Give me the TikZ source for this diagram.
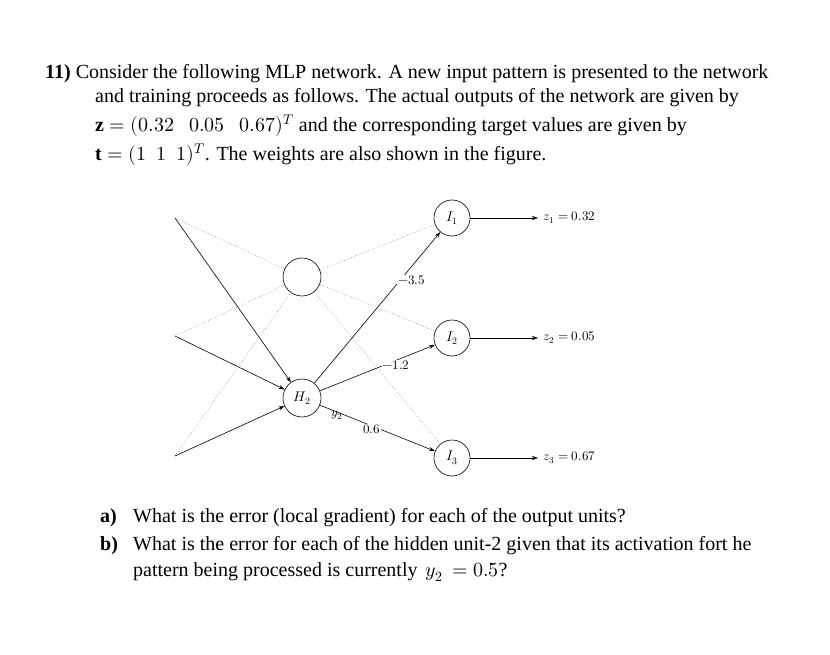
\documentclass[tikz,border=0pt]{standalone}
\usepackage{fontspec}
\setmainfont{Liberation Serif}
\usepackage{unicode-math}
\usetikzlibrary{arrows.meta}
\begin{document}
\begin{tikzpicture}[x=1pt,y=-1pt,
  neuron/.style={circle,draw,line width=0.6pt,minimum size=36pt,inner sep=0pt,font=\fontsize{14}{14}\selectfont},
  conn/.style={-{Stealth[length=6pt,width=4pt]},line width=0.6pt},
  dots/.style={dotted,line width=0.6pt,gray},
  wlab/.style={font=\fontsize{13}{13}\selectfont,inner sep=1pt,fill=white},
  txt/.style={anchor=west,inner sep=0pt,font=\fontsize{20}{20}\selectfont}]
\useasboundingbox (0,0) rectangle (830,655);
\coordinate (x1) at (175,218);
\coordinate (x2) at (175,336);
\coordinate (x3) at (175,456);
\node[neuron,minimum size=38pt] (h1) at (302,277) {};
\node[neuron,minimum size=38pt] (h2) at (302,398) {$H_2$};
\node[neuron] (o1) at (452,218) {$I_1$};
\node[neuron] (o2) at (452,338) {$I_2$};
\node[neuron] (o3) at (452,458) {$I_3$};
\foreach \x in {x1,x2,x3} \draw[dots] (\x) -- (h1);
\foreach \o in {o1,o2,o3} \draw[dots] (h1) -- (\o);
\foreach \x in {x1,x2,x3} \draw[conn] (\x) -- (h2);
\draw[conn] (h2) -- node[wlab,pos=0.68,anchor=west,xshift=-3pt] {$-3.5$} (o1);
\draw[conn] (h2) -- node[wlab,pos=0.66,anchor=north,yshift=1pt] {$-1.2$} (o2);
\draw[conn] (h2) -- node[wlab,pos=0.45,anchor=north,yshift=2pt] {$0.6$} (o3);
\node[font=\fontsize{13}{13}\selectfont] (yl) at (337,415) {$y_2$};
\coordinate (e1) at (538,218);
\coordinate (e2) at (538,338);
\coordinate (e3) at (538,458);
\draw[conn] (o1) -- (e1);
\draw[conn] (o2) -- (e2);
\draw[conn] (o3) -- (e3);
\node[anchor=west,font=\fontsize{13}{13}\selectfont] (z1) at (540,218) {$z_1=0.32$};
\node[anchor=west,font=\fontsize{13}{13}\selectfont] (z2) at (540,338) {$z_2=0.05$};
\node[anchor=west,font=\fontsize{13}{13}\selectfont] (z3) at (540,458) {$z_3=0.67$};
\node[txt] (t1) at (45,74) {\textbf{11)} Consider the following MLP network. A new input pattern is presented to the network};
\node[txt] (t2) at (95,98) {and training proceeds as follows. The actual outputs of the network are given by};
\node[txt] (t3) at (95,126) {$\mathbf{z}=(0.32\ \ \ 0.05\ \ \ 0.67)^{T}$ and the corresponding target values are given by};
\node[txt] (t4) at (95,155) {$\mathbf{t}=(1\ \ 1\ \ 1)^{T}$. The weights are also shown in the figure.};
\node[txt] (q1) at (100,518) {\textbf{a)}};
\node[txt] (q1t) at (133,518) {What is the error (local gradient) for each of the output units?};
\node[txt] (q2) at (100,546) {\textbf{b)}};
\node[txt] (q2t) at (133,546) {What is the error for each of the hidden unit-2 given that its activation fort he};
\node[txt] (q3t) at (133,572) {pattern being processed is currently $\,y_2\,=0.5$?};
\end{tikzpicture}
\end{document}
